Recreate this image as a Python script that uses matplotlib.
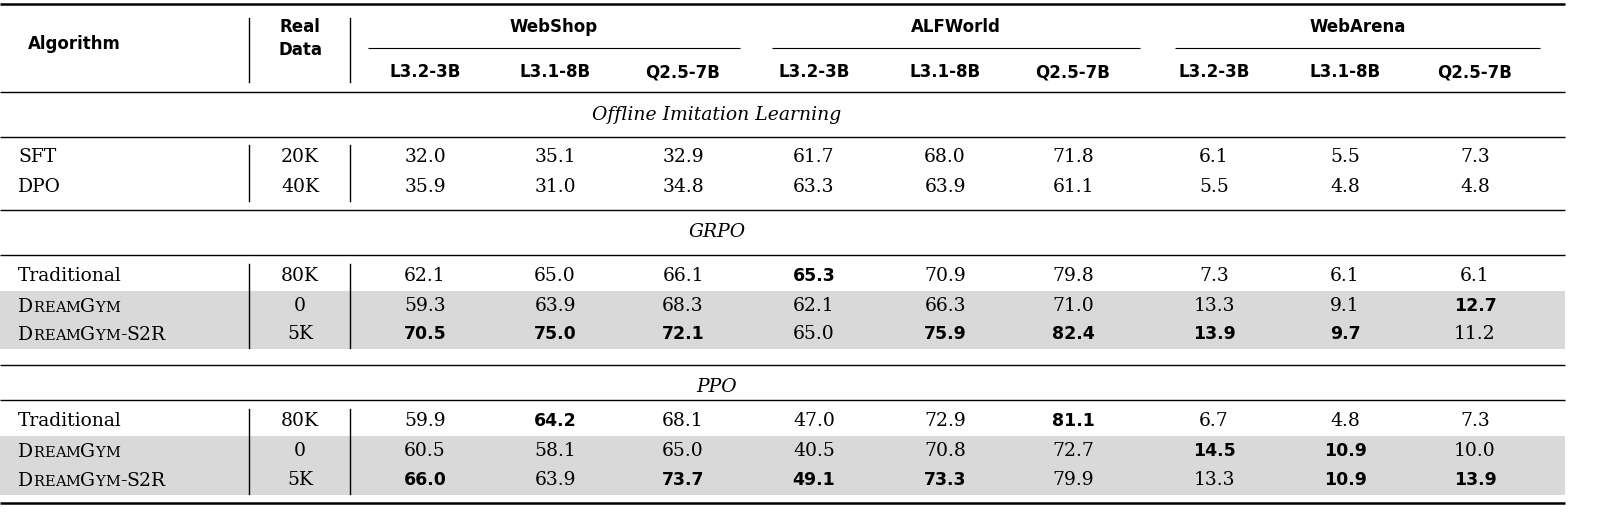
import matplotlib.pyplot as plt

groups = ["WebShop", "ALFWorld", "WebArena"]
models = ["L3.2-3B", "L3.1-8B", "Q2.5-7B"]
sections = ["Offline Imitation Learning", "GRPO", "PPO"]

offline_rows = [("SFT", "20K", [32.0, 35.1, 32.9, 61.7, 68.0, 71.8, 6.1, 5.5, 7.3]),
                ("DPO", "40K", [35.9, 31.0, 34.8, 63.3, 63.9, 61.1, 5.5, 4.8, 4.8])]
grpo_rows = [("Traditional", "80K", [62.1, 65.0, 66.1, 65.3, 70.9, 79.8, 7.3, 6.1, 6.1]),
             ("DreamGym", "0", [59.3, 63.9, 68.3, 62.1, 66.3, 71.0, 13.3, 9.1, 12.7]),
             ("DreamGym-S2R", "5K", [70.5, 75.0, 72.1, 65.0, 75.9, 82.4, 13.9, 9.7, 11.2])]
grpo_bold = [[3], [8], [0, 1, 2, 4, 5, 6, 7]]
ppo_rows = [("Traditional", "80K", [59.9, 64.2, 68.1, 47.0, 72.9, 81.1, 6.7, 4.8, 7.3]),
            ("DreamGym", "0", [60.5, 58.1, 65.0, 40.5, 70.8, 72.7, 14.5, 10.9, 10.0]),
            ("DreamGym-S2R", "5K", [66.0, 63.9, 73.7, 49.1, 73.3, 79.9, 13.3, 10.9, 13.9])]
ppo_bold = [[1, 5], [6, 7], [0, 2, 3, 4, 7, 8]]

col_x = [425, 555, 683, 814, 945, 1073, 1214, 1345, 1475]
serif = "DejaVu Serif"
sans = "DejaVu Sans"
fs = 13.5

fig = plt.figure(figsize=(16.2, 5.26), dpi=100)
ax = fig.add_axes([0, 0, 1, 1])
ax.set_xlim(0, 1620)
ax.set_ylim(526, 0)
ax.axis("off")


def hline(y, x0=0, x1=1565, lw=1.0):
    ax.plot([x0, x1], [y, y], color="black", lw=lw, solid_capstyle="butt")


def vbars(y0, y1):
    for x in (249, 350):
        ax.plot([x, x], [y0, y1], color="black", lw=1.0)


def smallcaps(x, y, name):
    # draw name in small caps by pieces
    parts = []
    for ch in name:
        if ch.isupper() or not ch.isalpha():
            parts.append((ch, fs))
        else:
            parts.append((ch.upper(), fs * 0.78))
    fig.canvas.draw()
    r = fig.canvas.get_renderer()
    inv = ax.transData.inverted()
    for ch, size in parts:
        t = ax.text(x, y, ch, fontsize=size, family=serif, va="baseline", ha="left")
        bb = t.get_window_extent(r)
        x = inv.transform((bb.x1, bb.y0))[0]


# header
hline(4, lw=1.8)
ax.text(28, 44, "Algorithm", fontsize=12, weight="bold", family=sans, va="center")
ax.text(300, 27, "Real", fontsize=12, weight="bold", family=sans, ha="center", va="center")
ax.text(300, 50, "Data", fontsize=12, weight="bold", family=sans, ha="center", va="center")
vbars(18, 82)
for g, (a, b) in zip(groups, [(368, 740), (772, 1140), (1175, 1540)]):
    ax.text((a + b) / 2, 27, g, fontsize=12, weight="bold", family=sans, ha="center", va="center")
    hline(48, a, b, lw=0.8)
for i, x in enumerate(col_x):
    ax.text(x, 72, models[i % 3], fontsize=12, weight="bold", family=sans, ha="center", va="center")
hline(92, lw=1.0)


def section(title, ytitle, ytop, ybot):
    ax.text(717, ytitle, title, fontsize=fs, style="italic", family=serif, ha="center", va="center")
    if ytop is not None:
        hline(ytop)
    hline(ybot)


def rows(data, ys, bold, shade):
    for k, ((name, real, vals), y) in enumerate(zip(data, ys)):
        if k in shade:
            ax.axhspan(y - 15, y + 15, xmin=0, xmax=1565 / 1620, color="#d9d9d9", lw=0, zorder=0)
        if name.startswith("DreamGym"):
            smallcaps(18, y + 6, name)
        else:
            ax.text(18, y, name, fontsize=fs, family=serif, va="center")
        ax.text(300, y, real, fontsize=fs, family=serif, ha="center", va="center")
        for j, v in enumerate(vals):
            b = bold is not None and j in bold[k]
            ax.text(col_x[j], y, f"{v:.1f}", fontsize=fs if not b else 12.5,
                    family=sans if b else serif, weight="bold" if b else "normal",
                    ha="center", va="center")
    vbars(ys[0] - 12, ys[-1] + 14)


section(sections[0], 115, None, 137)
rows(offline_rows, [157, 187], None, [])
section(sections[1], 232, 210, 255)
rows(grpo_rows, [276, 306, 334], grpo_bold, [1, 2])
section(sections[2], 387, 365, 400)
rows(ppo_rows, [421, 451, 480], ppo_bold, [1, 2])
hline(503, lw=1.8)

fig.savefig("out.png", dpi=100)
